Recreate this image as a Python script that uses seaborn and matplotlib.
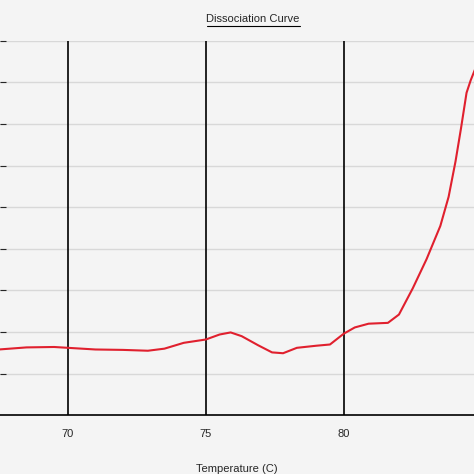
import matplotlib
matplotlib.use("Agg")
import matplotlib.pyplot as plt
import seaborn as sns
import pandas as pd

temperature = [67.5, 68.5, 69.5, 70.0, 71.0, 72.0, 72.9, 73.5, 74.2, 75.0, 75.5, 75.9,
               76.3, 76.9, 77.4, 77.8, 78.3, 79.0, 79.5, 80.0, 80.4, 80.9, 81.6, 82.0,
               82.5, 83.0, 83.5, 83.8, 84.05, 84.25, 84.45, 84.6, 84.75]
signal = [1.58, 1.63, 1.64, 1.62, 1.58, 1.57, 1.55, 1.60, 1.74, 1.82, 1.94, 1.99,
          1.90, 1.68, 1.51, 1.49, 1.62, 1.67, 1.70, 1.96, 2.11, 2.20, 2.22, 2.42,
          3.05, 3.75, 4.55, 5.25, 6.10, 6.90, 7.75, 8.05, 8.30]
x_ticks = [70, 75, 80]

df = pd.DataFrame({"temperature": temperature, "signal": signal})

sns.set_style("white")
fig = plt.figure(figsize=(4.74, 4.74), dpi=100, facecolor="#f4f4f4")
ax = fig.add_axes([0.0, 0.124, 1.0, 0.79])
ax.set_facecolor("#f4f4f4")

for yv in range(1, 10):
    ax.axhline(yv, color="#d8d8d8", lw=1, zorder=0)
for xv in x_ticks:
    ax.axvline(xv, color="black", lw=1.2, zorder=1)

sns.lineplot(data=df, x="temperature", y="signal", color="#e0202e", lw=1.5, ax=ax, zorder=3)

ax.set_xlim(67.54, 84.72)
ax.set_ylim(0, 9)
ax.set_xticks(x_ticks)
ax.set_xticklabels([str(t) for t in x_ticks], fontsize=8, family="Liberation Sans")
ax.set_yticks(range(1, 10))
ax.set_yticklabels([])
ax.tick_params(axis="y", direction="in", length=4, left=True)
ax.tick_params(axis="x", length=0, pad=10)
for s in ["top", "right", "left"]:
    ax.spines[s].set_visible(False)
ax.spines["bottom"].set_color("black")
ax.spines["bottom"].set_linewidth(1.2)

ax.set_xlabel("Temperature (C)", fontsize=8, family="Liberation Sans", labelpad=18)
ax.set_ylabel("")
fig.text(0.534, 0.953, "Dissociation Curve", ha="center", fontsize=8,
         family="Liberation Sans")
fig.add_artist(plt.Line2D([0.436, 0.632], [0.946, 0.946], color="black", lw=0.8))

fig.savefig("out.png", dpi=100, facecolor=fig.get_facecolor())
